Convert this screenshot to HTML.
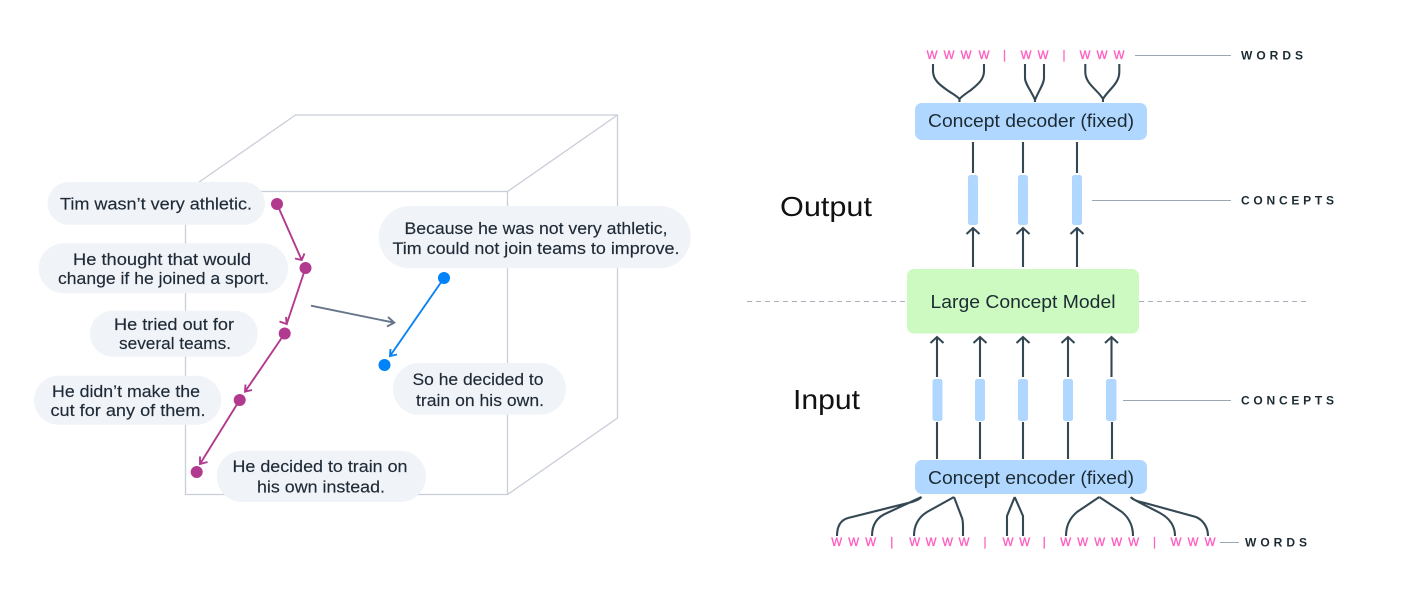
<!DOCTYPE html>
<html lang="en">
<head>
<meta charset="utf-8">
<title>Large Concept Model</title>
<style>
html,body{margin:0;padding:0;background:#fff;width:1407px;height:601px;overflow:hidden}
svg{display:block}
text{font-family:"Liberation Sans",sans-serif}
.t{font-size:16.5px;fill:#1f2a37;text-anchor:middle;stroke:#1f2a37;stroke-width:.15}
.w{font-size:11.5px;fill:#ff5fc0;stroke:#ff5fc0;stroke-width:.35;text-anchor:middle}
.lab{font-size:12px;font-weight:bold;fill:#1c2b33}
.dark{stroke:#344854;stroke-width:2.1;fill:none}
.thin{stroke:#9aa8b5;stroke-width:1;fill:none}
.b{fill:#f0f3f7}
</style>
</head>
<body>
<svg width="1407" height="601" viewBox="0 0 1407 601" xmlns="http://www.w3.org/2000/svg">
<!-- cube -->
<g stroke="#c9ced9" stroke-width="1.3" fill="none">
<rect x="185.5" y="191.5" width="322" height="303"/>
<path d="M185.5 191.5L295.5 115H617.5V418L507.5 494.5M507.5 191.5L617.5 115"/>
</g>
<!-- bubbles -->
<rect class="b" x="47.5" y="182" width="217.5" height="42.7" rx="21.3"/>
<rect class="b" x="38.7" y="243.3" width="249.3" height="50" rx="25"/>
<rect class="b" x="90" y="310.7" width="167.7" height="46" rx="23"/>
<rect class="b" x="34" y="375.7" width="187" height="49" rx="24.5"/>
<rect class="b" x="216.7" y="450.7" width="209.3" height="51.3" rx="25.6"/>
<rect class="b" x="378.7" y="206" width="312" height="62.3" rx="31"/>
<rect class="b" x="393" y="363" width="173" height="51.7" rx="25.8"/>
<text class="t" x="156" y="209.5" textLength="192" lengthAdjust="spacingAndGlyphs">Tim wasn’t very athletic.</text>
<text class="t" x="162" y="265" textLength="178" lengthAdjust="spacingAndGlyphs">He thought that would</text>
<text class="t" x="163.5" y="284" textLength="211" lengthAdjust="spacingAndGlyphs">change if he joined a sport.</text>
<text class="t" x="174" y="330" textLength="120" lengthAdjust="spacingAndGlyphs">He tried out for</text>
<text class="t" x="175" y="349" textLength="112" lengthAdjust="spacingAndGlyphs">several teams.</text>
<text class="t" x="126" y="397" textLength="148" lengthAdjust="spacingAndGlyphs">He didn’t make the</text>
<text class="t" x="128" y="416" textLength="155" lengthAdjust="spacingAndGlyphs">cut for any of them.</text>
<text class="t" x="320" y="472" textLength="175" lengthAdjust="spacingAndGlyphs">He decided to train on</text>
<text class="t" x="321" y="492.5" textLength="128" lengthAdjust="spacingAndGlyphs">his own instead.</text>
<text class="t" x="536" y="234" textLength="263" lengthAdjust="spacingAndGlyphs">Because he was not very athletic,</text>
<text class="t" x="536" y="254" textLength="287" lengthAdjust="spacingAndGlyphs">Tim could not join teams to improve.</text>
<text class="t" x="478" y="385" textLength="131" lengthAdjust="spacingAndGlyphs">So he decided to</text>
<text class="t" x="480" y="406" textLength="128" lengthAdjust="spacingAndGlyphs">train on his own.</text>
<!-- magenta path -->
<g stroke="#b23a8e" stroke-width="1.9" fill="none">
<path d="M277 204L301.7 260M295 258.5L301.7 260L304.5 253.5"/>
<path d="M305.5 268L286.7 324M286 317L286.7 324L279.5 321.5"/>
<path d="M284.7 333.5L245 391.7M245.5 384.5L245 391.7L252 390"/>
<path d="M239.7 400L200 464M200 456.5L200 464L207.5 462"/>
</g>
<g fill="#b23a8e">
<circle cx="277" cy="204" r="6"/><circle cx="305.5" cy="268" r="6"/><circle cx="284.7" cy="333.5" r="6"/><circle cx="239.7" cy="400" r="6"/><circle cx="196.7" cy="472" r="6"/>
</g>
<path d="M444 278L390 356M390.5 349L390 356L397 354.5" stroke="#0a82f5" stroke-width="1.9" fill="none"/>
<circle cx="444" cy="278" r="6" fill="#0082fb"/><circle cx="384.5" cy="365" r="6" fill="#0082fb"/>
<path d="M311 305.7L394.3 322.7M388 317L394.3 322.7L387 326.5" stroke="#66758a" stroke-width="1.9" fill="none"/>

<!-- right: top words -->
<text class="w" x="932" y="59">W</text><text class="w" x="949" y="59">W</text><text class="w" x="966" y="59">W</text><text class="w" x="984" y="59">W</text><text class="w" x="1004.5" y="59">|</text>
<text class="w" x="1026" y="59">W</text><text class="w" x="1043" y="59">W</text><text class="w" x="1064" y="59">|</text>
<text class="w" x="1085" y="59">W</text><text class="w" x="1102" y="59">W</text><text class="w" x="1119" y="59">W</text>
<path class="thin" d="M1135 55.5H1231"/>
<text class="lab" x="1241" y="59.5" textLength="62" lengthAdjust="spacing">WORDS</text>
<g class="dark">
<path d="M933 64V71C933 80 940 85 947 90C952 93.5 957 96 959.5 99V102M984 64V71C984 80 977 85 971 90C966 93.5 962 96 959.5 99"/>
<path d="M1025 64V78C1025 84 1032 92 1035 100V102M1044 64V78C1044 84 1038 92 1035 100"/>
<path d="M1085.3 64V72C1085.3 84 1098 90 1103 99V102M1119.3 64V72C1119.3 84 1108 90 1103 99"/>
</g>
<rect x="915" y="103" width="232" height="37" rx="7" fill="#b0d7ff"/>
<text x="1031" y="127" font-size="18" fill="#1c2b33" text-anchor="middle" textLength="206" lengthAdjust="spacingAndGlyphs">Concept decoder (fixed)</text>
<!-- top vectors -->
<g class="dark">
<path d="M973 142V173M1023 142V173M1077 142V173"/>
<path d="M973 267V228M966.5 234L973 228L979.5 234M1023 267V228M1016.5 234L1023 228L1029.5 234M1077 267V228M1070.5 234L1077 228L1083.5 234"/>
</g>
<g fill="#b0d7ff">
<rect x="968" y="175" width="10" height="50" rx="2.5"/><rect x="1018" y="175" width="10" height="50" rx="2.5"/><rect x="1072" y="175" width="10" height="50" rx="2.5"/>
</g>
<path class="thin" d="M1092 200.5H1231"/>
<text class="lab" x="1241" y="204.5" textLength="93" lengthAdjust="spacing">CONCEPTS</text>
<text x="780" y="216" font-size="28" fill="#111" textLength="92" lengthAdjust="spacingAndGlyphs">Output</text>
<!-- LCM -->
<path d="M747 301.5H907M1139 301.5H1306" stroke="#a6b0ba" stroke-width="1" stroke-dasharray="5 4" fill="none"/>
<rect x="907" y="269" width="232" height="64.5" rx="7" fill="#ccfac0"/>
<text x="1023" y="308" font-size="18" fill="#1c2b33" text-anchor="middle" textLength="185" lengthAdjust="spacingAndGlyphs">Large Concept Model</text>
<!-- input vectors -->
<g class="dark">
<path d="M937 377V337M930.5 343L937 337L943.5 343M980 377V337M973.5 343L980 337L986.5 343M1023 377V337M1016.5 343L1023 337L1029.5 343M1068 377V337M1061.5 343L1068 337L1074.5 343M1111.5 377V337M1105 343L1111.5 337L1118 343"/>
<path d="M937 422V459M980 422V459M1023 422V459M1068 422V459M1112 422V459"/>
</g>
<g fill="#b0d7ff">
<rect x="932.5" y="379" width="10" height="42" rx="2.5"/><rect x="975" y="379" width="10" height="42" rx="2.5"/><rect x="1018" y="379" width="10" height="42" rx="2.5"/><rect x="1063" y="379" width="10" height="42" rx="2.5"/><rect x="1106" y="379" width="10.5" height="42" rx="2.5"/>
</g>
<path class="thin" d="M1123 400.5H1231"/>
<text class="lab" x="1241" y="404.5" textLength="93" lengthAdjust="spacing">CONCEPTS</text>
<text x="793" y="409" font-size="28" fill="#111" textLength="67" lengthAdjust="spacingAndGlyphs">Input</text>
<!-- encoder -->
<rect x="915" y="460" width="232" height="34" rx="7" fill="#b0d7ff"/>
<text x="1031" y="484" font-size="18" fill="#1c2b33" text-anchor="middle" textLength="206" lengthAdjust="spacingAndGlyphs">Concept encoder (fixed)</text>
<g class="dark">
<path d="M921.5 497C919 500 915 501 912 502L848 518C841 520 837 526 837 536M921.5 497L887 513C877 517 872 525 872 536"/>
<path d="M954 497L927 512C919 517 914 525 914 536M954 497L962 518C963 521 963 524 963 527V536"/>
<path d="M1014.7 497L1007 516V536M1014.7 497L1023 516V536"/>
<path d="M1099.3 497L1077 512C1071 517 1066 525 1066 536M1099.3 497L1122 512C1128 517 1133 525 1133 536"/>
<path d="M1130.7 497C1133 500 1145 505 1160 513C1169 518 1175 525 1175 536M1130.7 497C1133 500 1140 502 1145 503L1196 517C1203 520 1208 527 1208 536"/>
</g>
<g>
<text class="w" x="836.7" y="546">W</text><text class="w" x="853.7" y="546">W</text><text class="w" x="870.7" y="546">W</text><text class="w" x="891.7" y="546">|</text>
<text class="w" x="914.7" y="546">W</text><text class="w" x="931" y="546">W</text><text class="w" x="947.5" y="546">W</text><text class="w" x="964" y="546">W</text><text class="w" x="985" y="546">|</text>
<text class="w" x="1008" y="546">W</text><text class="w" x="1024.7" y="546">W</text><text class="w" x="1044.3" y="546">|</text>
<text class="w" x="1065.7" y="546">W</text><text class="w" x="1082.7" y="546">W</text><text class="w" x="1099.7" y="546">W</text><text class="w" x="1116.7" y="546">W</text><text class="w" x="1133.7" y="546">W</text><text class="w" x="1154.5" y="546">|</text>
<text class="w" x="1176" y="546">W</text><text class="w" x="1193" y="546">W</text><text class="w" x="1210" y="546">W</text>
</g>
<path class="thin" d="M1220 542.5H1239"/>
<text class="lab" x="1245" y="546.5" textLength="62" lengthAdjust="spacing">WORDS</text>
</svg>
</body>
</html>
